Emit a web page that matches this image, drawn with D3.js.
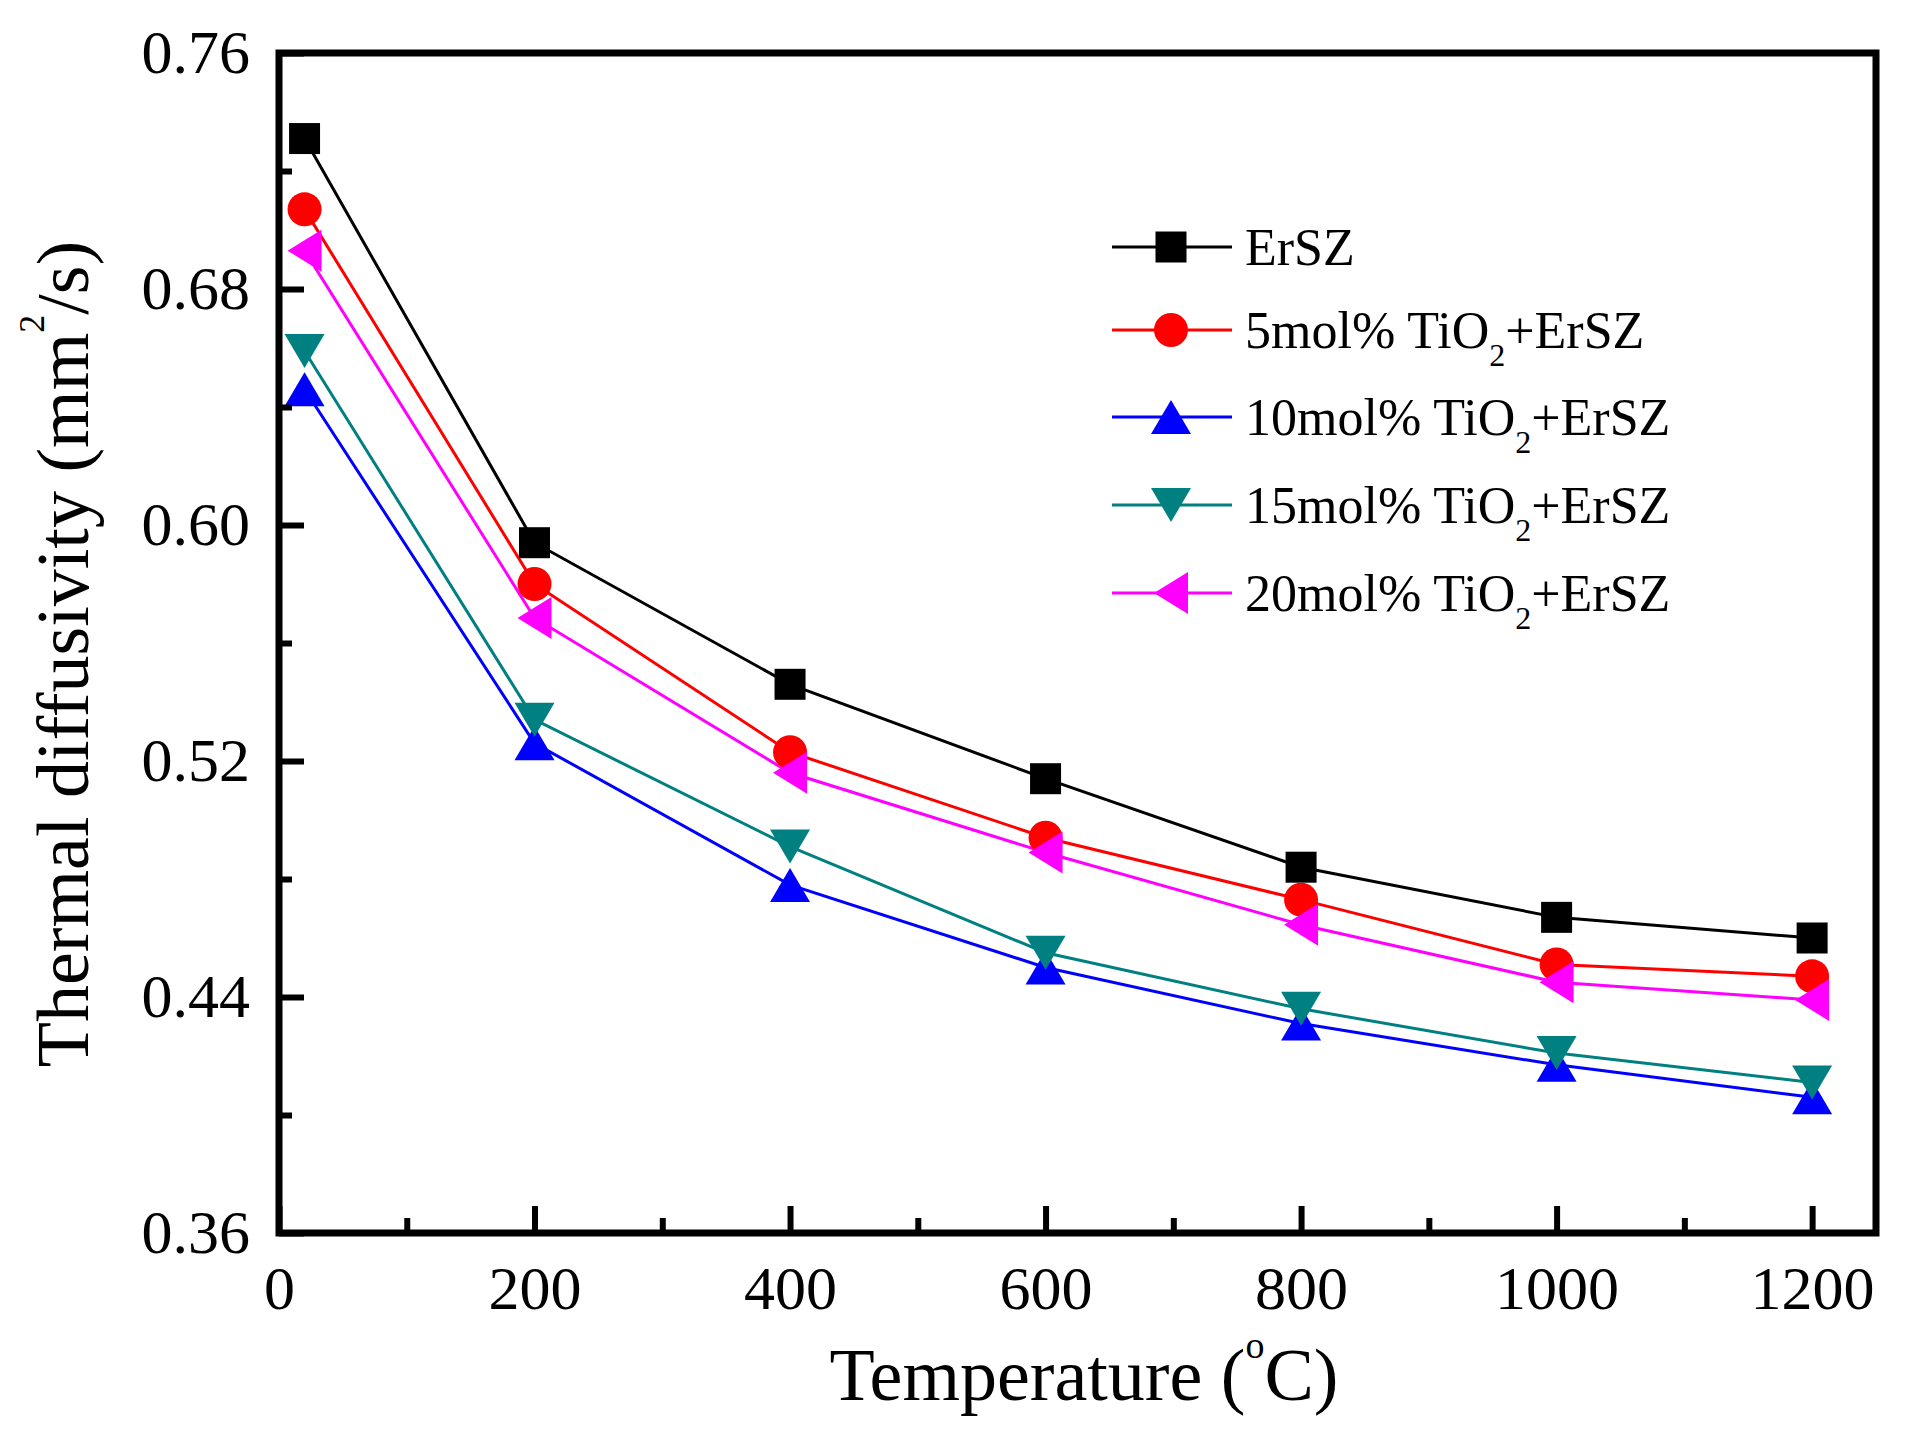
<!DOCTYPE html>
<html>
<head>
<meta charset="utf-8">
<script src="https://cdn.jsdelivr.net/npm/d3@7"></script>
<style>
    body { margin: 0; background: #fff; }
    text { font-family: "Liberation Serif", "Times New Roman", serif; fill: #000; }
</style>
</head>
<body>
<div id="chart"></div>
<script>
// data
var temperatures = [20, 200, 400, 600, 800, 1000, 1200];
var erSZ = [0.731, 0.594, 0.546, 0.514, 0.484, 0.467, 0.460];
var tio2_5 = [0.707, 0.580, 0.523, 0.494, 0.473, 0.451, 0.447];
var tio2_10 = [0.646, 0.526, 0.478, 0.450, 0.431, 0.417, 0.406];
var tio2_15 = [0.659, 0.534, 0.491, 0.455, 0.436, 0.421, 0.411];
var tio2_20 = [0.693, 0.5685, 0.516, 0.489, 0.4645, 0.445, 0.439];

var xTicks = [0, 200, 400, 600, 800, 1000, 1200];
var xMinorTicks = [100, 300, 500, 700, 900, 1100];
var yTicks = [0.36, 0.44, 0.52, 0.60, 0.68, 0.76];
var yMinorTicks = [0.40, 0.48, 0.56, 0.64, 0.72];

var seriesNames = ['ErSZ', '5mol%', '10mol%', '15mol%', '20mol%'];
var seriesValues = [erSZ, tio2_5, tio2_10, tio2_15, tio2_20];
var seriesColors = ['#000000', '#ff0000', '#0000ff', '#008080', '#ff00ff'];
var seriesMarkers = ['square', 'circle', 'up', 'down', 'left'];

var width = 1915, height = 1440;
var margin = { left: 279, top: 53, right: 39, bottom: 207 };
var plotW = width - margin.left - margin.right,
    plotH = height - margin.top - margin.bottom;

var svg = d3.select('#chart').append('svg')
    .attr('width', width)
    .attr('height', height);

var x = d3.scaleLinear().domain([0, 1250]).range([0, plotW]);
var y = d3.scaleLinear().domain([0.36, 0.76]).range([plotH, 0]);

var g = svg.append('g').attr('transform', 'translate(' + margin.left + ',' + margin.top + ')');

// marker shapes, centred on 0,0
function markerPath(type) {
    var p = d3.path();
    if (type === 'square') {
        p.rect(-15.5, -15.5, 31, 31);
    } else if (type === 'circle') {
        p.arc(0, 0, 17, 0, 2 * Math.PI);
    } else if (type === 'up') {
        p.moveTo(0, -17); p.lineTo(20, 17); p.lineTo(-20, 17); p.closePath();
    } else if (type === 'down') {
        p.moveTo(0, 17); p.lineTo(20, -17); p.lineTo(-20, -17); p.closePath();
    } else if (type === 'left') {
        p.moveTo(-17, 0); p.lineTo(17, -21); p.lineTo(17, 21); p.closePath();
    }
    return p.toString();
}

// series lines and markers
var line = d3.line()
    .x(function (d, i) { return x(temperatures[i]); })
    .y(function (d) { return y(d); });

seriesValues.forEach(function (values, s) {
    g.append('path')
        .datum(values)
        .attr('d', line)
        .attr('fill', 'none')
        .attr('stroke', seriesColors[s])
        .attr('stroke-width', 3);
});

seriesValues.forEach(function (values, s) {
    g.selectAll('.m' + s)
        .data(values)
        .enter().append('path')
        .attr('class', 'm' + s)
        .attr('transform', function (d, i) { return 'translate(' + x(temperatures[i]) + ',' + y(d) + ')'; })
        .attr('d', markerPath(seriesMarkers[s]))
        .attr('fill', seriesColors[s]);
});

// axes: ticks inward, only left and bottom
var xAxis = d3.axisBottom(x).tickValues(xTicks).tickSize(-27).tickPadding(32).tickFormat(d3.format('d'));
var xMinor = d3.axisBottom(x).tickValues(xMinorTicks).tickSize(-15).tickFormat('');
var yAxis = d3.axisLeft(y).tickValues(yTicks).tickSize(-25).tickPadding(29).tickFormat(d3.format('.2f'));
var yMinor = d3.axisLeft(y).tickValues(yMinorTicks).tickSize(-13).tickFormat('');

function styleAxis(sel) {
    sel.select('.domain').remove();
    sel.selectAll('line').attr('stroke', '#000').attr('stroke-width', 6);
    sel.selectAll('text').style('font-size', '62px').attr('fill', '#000');
}

g.append('g').attr('transform', 'translate(0,' + plotH + ')').call(xAxis).call(styleAxis);
g.append('g').attr('transform', 'translate(0,' + plotH + ')').call(xMinor).call(styleAxis);
g.append('g').call(yAxis).call(styleAxis);
g.append('g').call(yMinor).call(styleAxis);

g.selectAll('.tick text').attr('font-family', null);

// frame
g.append('rect')
    .attr('x', 0).attr('y', 0)
    .attr('width', plotW).attr('height', plotH)
    .attr('fill', 'none')
    .attr('stroke', '#000')
    .attr('stroke-width', 7);

// axis titles
var xTitle = svg.append('text')
    .attr('x', 1084).attr('y', 1400)
    .attr('text-anchor', 'middle')
    .style('font-size', '74px');
xTitle.append('tspan').text('Temperature (');
xTitle.append('tspan').attr('dy', -42).style('font-size', '38px').text('o');
xTitle.append('tspan').attr('dy', 42).text('C)');

var yTitle = svg.append('text')
    .attr('transform', 'translate(88,654) rotate(-90)')
    .attr('text-anchor', 'middle')
    .style('font-size', '74px');
yTitle.append('tspan').text('Thermal diffusivity (mm');
yTitle.append('tspan').attr('dy', -44).style('font-size', '36px').text('2');
yTitle.append('tspan').attr('dy', 44).text('/s)');

// legend
var legendRows = [247, 330, 417, 505, 593];
var legend = svg.append('g');
seriesNames.forEach(function (name, s) {
    var ly = legendRows[s];
    legend.append('line')
        .attr('x1', 1112).attr('x2', 1232)
        .attr('y1', ly).attr('y2', ly)
        .attr('stroke', seriesColors[s])
        .attr('stroke-width', 3);
    legend.append('path')
        .attr('transform', 'translate(1171,' + ly + ')')
        .attr('d', markerPath(seriesMarkers[s]))
        .attr('fill', seriesColors[s]);
    var t = legend.append('text')
        .attr('x', 1245).attr('y', ly + 18)
        .style('font-size', '52px');
    if (s === 0) {
        t.text(name);
    } else {
        t.append('tspan').text(name + ' TiO');
        t.append('tspan').attr('dy', 18).style('font-size', '32px').text('2');
        t.append('tspan').attr('dy', -18).text('+ErSZ');
    }
});
</script>
</body>
</html>
